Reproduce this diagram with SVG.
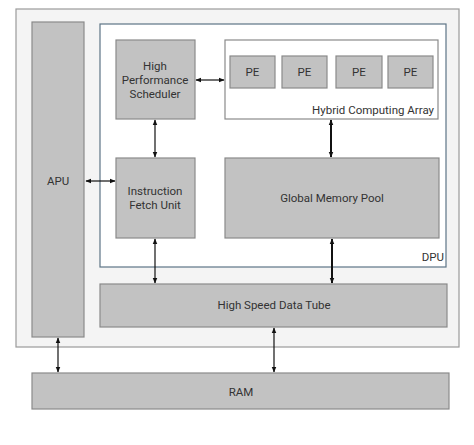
<svg xmlns="http://www.w3.org/2000/svg" width="474" height="445" viewBox="0 0 474 445">
<style>
.blk{fill:#c2c2c2;stroke:#8a8a8a;stroke-width:1.2}
.lbl{font-family:Roboto,"Liberation Sans",sans-serif;font-size:11.5px;fill:#333;text-anchor:middle}
.con{stroke:#111;stroke-width:1.2;fill:none;marker-start:url(#ah);marker-end:url(#ah)}
.thick{stroke-width:2}
</style>
<defs>
<marker id="ah" viewBox="0 0 10 10" refX="9" refY="5" markerWidth="6" markerHeight="6" markerUnits="userSpaceOnUse" orient="auto-start-reverse">
<path d="M0,1 L10,5 L0,9 z" fill="#111"/>
</marker>
</defs>
<rect width="474" height="445" fill="#fff"/>
<g id="outer"><rect x="16" y="9" width="443" height="338" fill="#f4f4f4" stroke="#9a9a9a" stroke-width="1.2"/></g>
<g id="apu"><rect class="blk" x="32" y="22" width="52" height="315"/><text class="lbl" x="58" y="185">APU</text></g>
<g id="dpu"><rect x="100" y="24" width="346" height="243" fill="#fff" stroke="#5d7485" stroke-width="1.2"/><text class="lbl" x="444" y="261" style="text-anchor:end">DPU</text></g>
<g id="scheduler"><rect class="blk" x="116" y="40" width="79" height="79"/><text class="lbl" x="155" y="70">High</text><text class="lbl" x="155" y="84">Performance</text><text class="lbl" x="155" y="98">Scheduler</text></g>
<g id="ifu"><rect class="blk" x="116" y="158" width="79" height="80"/><text class="lbl" x="155" y="195">Instruction</text><text class="lbl" x="155" y="209">Fetch Unit</text></g>
<g id="hca"><rect x="225" y="40" width="213" height="79" fill="#fff" stroke="#8a8a8a" stroke-width="1.2"/><text class="lbl" x="434" y="114" style="text-anchor:end">Hybrid Computing Array</text></g>
<g id="pe1"><rect class="blk" x="230" y="56" width="45" height="32"/><text class="lbl" x="252.5" y="76">PE</text></g>
<g id="pe2"><rect class="blk" x="282" y="56" width="45" height="32" stroke="#6b7b80"/><text class="lbl" x="304.5" y="76">PE</text></g>
<g id="pe3"><rect class="blk" x="336" y="56" width="46" height="32"/><text class="lbl" x="359" y="76">PE</text></g>
<g id="pe4"><rect class="blk" x="388" y="56" width="45" height="32"/><text class="lbl" x="410.5" y="76">PE</text></g>
<g id="gmp"><rect class="blk" x="225" y="158" width="214" height="80"/><text class="lbl" x="332" y="202">Global Memory Pool</text></g>
<g id="hsdt"><rect class="blk" x="100" y="284" width="347" height="43"/><text class="lbl" x="274" y="309">High Speed Data Tube</text></g>
<g id="ram"><rect class="blk" x="32" y="373" width="417" height="36"/><text class="lbl" x="241" y="396">RAM</text></g>
<g id="connectors">
<line class="con" x1="196" y1="80" x2="224" y2="80"/>
<line class="con" x1="155" y1="120" x2="155" y2="157"/>
<line class="con" x1="86" y1="181" x2="115" y2="181"/>
<line class="con thick" x1="331" y1="120" x2="331" y2="157"/>
<line class="con" x1="155" y1="239" x2="155" y2="283"/>
<line class="con thick" x1="332" y1="239" x2="332" y2="283"/>
<line class="con" x1="58" y1="338" x2="58" y2="372"/>
<line class="con" x1="274" y1="328" x2="274" y2="372"/>
</g>
</svg>
